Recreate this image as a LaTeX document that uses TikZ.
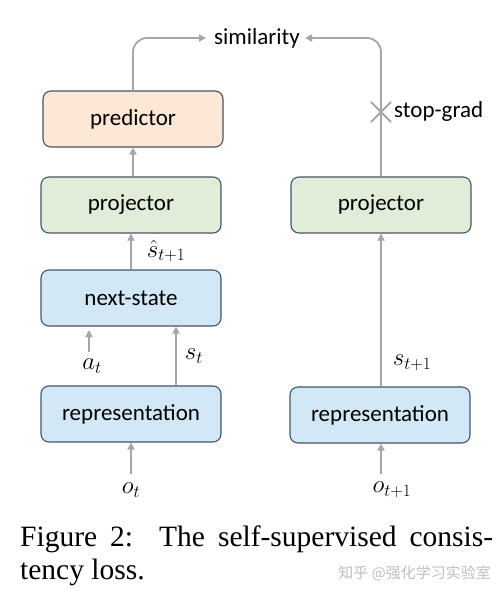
\documentclass[tikz,border=0pt]{standalone}
\usepackage{fontspec}
\setmainfont{Liberation Serif}
\newfontfamily\boxfont{Carlito}
\newfontfamily\cjkfont{Noto Sans CJK SC}
\DeclareMathSizes{27}{27}{17.5}{13}
\usetikzlibrary{arrows.meta}
\definecolor{bordc}{HTML}{44546A}
\definecolor{arrc}{HTML}{A6A6A6}
\definecolor{orangef}{HTML}{FCE8D4}
\definecolor{greenf}{HTML}{E2EDD9}
\definecolor{bluef}{HTML}{D3E8F6}
\begin{document}
\begin{tikzpicture}[x=1pt,y=-1pt,
  blk/.style={draw=bordc,line width=1.1pt,rounded corners=8pt,minimum width=180pt,minimum height=56pt,font=\boxfont\fontsize{23}{27}\selectfont,inner sep=0pt},
  arr/.style={draw=arrc,line width=1.8pt,-{Triangle[length=7pt,width=7pt]}},
  lab/.style={font=\fontsize{27}{30}\selectfont,inner sep=0pt},
  txt/.style={font=\boxfont\fontsize{23}{27}\selectfont,inner sep=0pt}]
\useasboundingbox (0,0) rectangle (503,594);
\node[blk,fill=orangef] (pred) at (133,119) {predictor};
\node[blk,fill=greenf] (projL) at (131,205) {projector};
\node[blk,fill=bluef] (next) at (131,298) {next-state};
\node[blk,fill=bluef] (repL) at (131,414) {representation};
\node[blk,fill=greenf] (projR) at (381,205) {projector};
\node[blk,fill=bluef] (repR) at (380,415) {representation};
\node[txt] (sim) at (257,38) {similarity};
\node[txt,anchor=west] (sg) at (394,111) {stop-grad};
% math labels
\node[lab] (ot) at (131,490) {$o_{t}$};
\node[lab] (ot1) at (392,490) {$o_{t+1}$};
\node[lab] (at) at (92,366) {$a_{t}$};
\node[lab] (st) at (194,356) {$s_{t}$};
\node[lab] (st1) at (412,363) {$s_{t+1}$};
\node[lab] (sh) at (166,251) {$\hat{s}_{t+1}$};
\coordinate (atb) at (89,352);
\coordinate (att) at (89,330);
\coordinate (otb) at (131,474);
\coordinate (ot1b) at (381,474);
\coordinate (xmark) at (381,112);
\coordinate (simL) at (206,38);
\coordinate (simR) at (305,38);
% arrows
\draw[arr] (otb) -- (repL.south);
\draw[arr] (ot1b) -- (repR.south -| ot1b);
\draw[arr] (atb) -- (att);
\draw[arr] (repL.north -| 176,0) -- (next.south -| 176,0);
\draw[arr] (next.north) -- (projL.south);
\draw[arr] (projL.north -| pred) -- (pred.south);
\draw[arr] (repR.north -| 381,0) -- (projR.south -| 381,0);
\draw[arr,rounded corners=14pt] (pred.north) -- (133,38) -- (simL);
\draw[arr,rounded corners=14pt] (projR.north) -- (381,38) -- (simR);
\draw[arrc,line width=1.8pt] ([shift={(-10,-10)}]xmark) -- ([shift={(10,10)}]xmark)
  ([shift={(-10,10)}]xmark) -- ([shift={(10,-10)}]xmark);
\node[anchor=north west,text width=473pt,align=justify,inner sep=0pt,font=\fontsize{29.5}{33}\selectfont] (cap) at (20,526)
  {Figure 2:\ \ The self-supervised consis-\linebreak tency loss.};
\node[font=\cjkfont\fontsize{15}{18}\selectfont,text=black!25,anchor=east,inner sep=0pt] (wm) at (491,573) {知乎 @强化学习实验室};
\end{tikzpicture}
\end{document}
